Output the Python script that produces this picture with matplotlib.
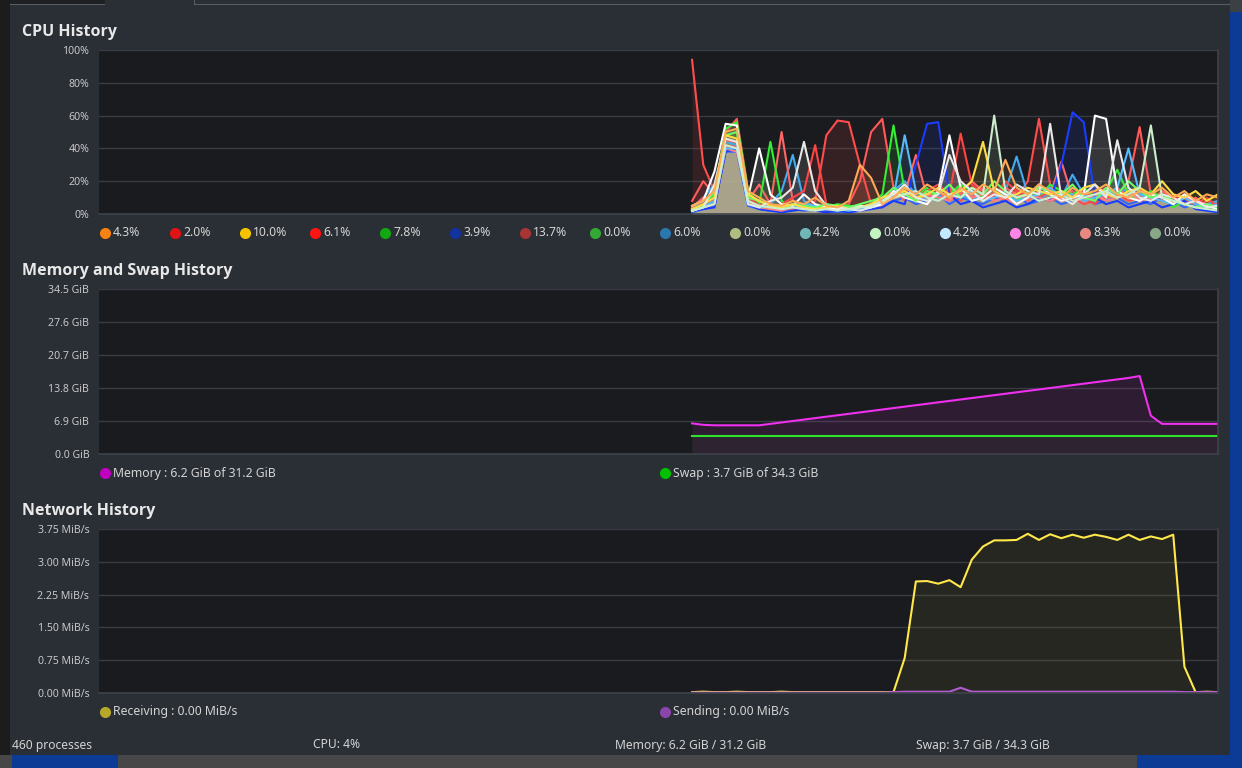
import numpy as np
import matplotlib
matplotlib.use("Agg")
import matplotlib.pyplot as plt
from matplotlib.patches import Rectangle
from matplotlib.lines import Line2D

plt.rcParams['font.family'] = ['Noto Sans', 'DejaVu Sans']

W, H = 1242, 768

# ---- data -------------------------------------------------------------
# history window is 100 samples, only the last 48 are filled
samples = np.arange(53, 101)

cpu_r1 = [94, 30, 14, 40, 42, 10, 6, 4, 5, 4, 3, 8, 48, 57, 56, 30, 6, 5, 12, 10, 8, 14, 10, 12,
          8, 14, 10, 8, 12, 10, 20, 58, 18, 8, 10, 6, 8, 10, 12, 8, 10, 8, 12, 10, 6, 4, 8, 6]
cpu_r2 = [8, 20, 12, 50, 58, 15, 4, 6, 4, 3, 4, 5, 3, 4, 6, 20, 50, 58, 16, 8, 12, 10, 14, 8,
          12, 10, 16, 12, 8, 14, 10, 12, 8, 10, 14, 8, 12, 16, 10, 20, 53, 12, 10, 8, 12, 6, 4, 8]
cpu_r3 = [4, 10, 8, 45, 44, 8, 18, 6, 50, 8, 5, 4, 3, 2, 3, 4, 3, 10, 14, 12, 36, 10, 8, 16,
          12, 20, 14, 10, 16, 12, 8, 14, 12, 32, 10, 14, 8, 12, 16, 10, 12, 8, 14, 10, 6, 10, 4, 6]
cpu_r4 = [3, 6, 10, 42, 40, 12, 5, 4, 6, 10, 14, 42, 6, 3, 2, 3, 4, 6, 12, 16, 10, 14, 18, 12,
          49, 18, 12, 10, 20, 14, 12, 10, 14, 8, 12, 10, 6, 14, 10, 12, 16, 10, 8, 12, 8, 6, 10, 4]
cpu_s1 = [2, 4, 6, 40, 38, 8, 4, 3, 2, 4, 3, 4, 5, 4, 3, 4, 6, 8, 10, 14, 8, 12, 10, 8,
          16, 10, 12, 8, 10, 6, 12, 10, 8, 12, 10, 8, 12, 8, 10, 14, 8, 10, 12, 6, 10, 8, 6, 4]
cpu_w1 = [5, 8, 26, 55, 54, 10, 40, 12, 6, 5, 12, 6, 4, 3, 4, 5, 4, 6, 14, 10, 8, 6, 14, 48,
          16, 8, 10, 16, 12, 6, 10, 18, 12, 8, 10, 12, 60, 58, 14, 10, 8, 12, 10, 6, 12, 8, 5, 3]
cpu_w2 = [2, 4, 18, 46, 44, 6, 4, 8, 10, 16, 44, 14, 5, 4, 3, 2, 4, 8, 12, 18, 10, 8, 12, 36,
          20, 14, 8, 12, 10, 18, 14, 12, 55, 10, 6, 12, 18, 10, 45, 16, 10, 8, 12, 10, 6, 8, 4, 5]
cpu_g1 = [3, 6, 12, 52, 56, 14, 6, 44, 8, 4, 3, 5, 4, 6, 5, 4, 6, 12, 54, 14, 10, 16, 8, 12,
          18, 14, 10, 16, 12, 8, 14, 10, 18, 14, 12, 16, 10, 14, 27, 12, 8, 14, 10, 4, 8, 6, 3, 2]
cpu_g2 = [2, 5, 14, 48, 50, 10, 8, 5, 4, 6, 5, 4, 6, 5, 4, 6, 8, 10, 16, 12, 8, 14, 12, 18,
          10, 16, 12, 20, 14, 10, 12, 16, 14, 12, 18, 10, 8, 16, 12, 20, 14, 10, 12, 8, 6, 4, 6, 4]
cpu_lb1 = [3, 10, 18, 44, 42, 12, 8, 6, 14, 36, 8, 4, 3, 4, 2, 3, 5, 8, 14, 20, 12, 8, 10, 14,
           12, 8, 12, 10, 14, 35, 12, 8, 14, 10, 24, 12, 10, 14, 12, 16, 10, 8, 12, 6, 8, 4, 6, 8]
cpu_lb2 = [2, 4, 8, 40, 40, 6, 4, 5, 3, 4, 6, 5, 4, 3, 2, 3, 4, 6, 10, 48, 14, 10, 8, 12,
           10, 14, 8, 10, 12, 8, 10, 12, 16, 10, 12, 8, 10, 12, 16, 40, 12, 10, 8, 6, 10, 6, 4, 6]
cpu_b1 = [2, 3, 4, 38, 40, 6, 3, 2, 1, 2, 3, 2, 1, 2, 1, 2, 3, 4, 8, 6, 30, 55, 56, 12,
          6, 8, 4, 6, 8, 4, 6, 10, 8, 30, 62, 56, 10, 6, 8, 4, 6, 8, 4, 6, 8, 3, 2, 1]
cpu_o1 = [5, 8, 14, 50, 52, 14, 10, 6, 5, 8, 6, 10, 5, 4, 8, 30, 22, 6, 10, 16, 12, 18, 14, 10,
          16, 12, 18, 14, 33, 16, 12, 18, 14, 10, 16, 12, 14, 18, 12, 10, 14, 12, 16, 10, 14, 8, 12, 10]
cpu_y1 = [3, 6, 10, 48, 46, 12, 8, 5, 4, 6, 4, 3, 4, 5, 3, 4, 6, 10, 12, 14, 10, 12, 16, 12,
          14, 20, 44, 14, 10, 12, 16, 14, 12, 14, 10, 16, 18, 12, 10, 14, 16, 12, 20, 12, 10, 14, 8, 12]
cpu_pg1 = [2, 4, 6, 42, 40, 8, 5, 4, 3, 4, 3, 2, 3, 2, 3, 4, 5, 8, 10, 12, 14, 10, 8, 12,
           10, 16, 12, 60, 14, 10, 12, 8, 10, 12, 8, 10, 12, 14, 10, 12, 16, 54, 10, 8, 6, 4, 3, 2]
cpu_b2 = [1, 3, 5, 38, 38, 5, 3, 2, 2, 3, 2, 3, 2, 1, 2, 3, 4, 6, 8, 10, 6, 8, 12, 6,
          10, 8, 6, 10, 8, 12, 6, 8, 10, 6, 8, 12, 6, 8, 10, 6, 8, 6, 10, 8, 4, 6, 3, 2]

# drawing order, chosen so the stacked fills end up a warm grey
cpu_series = [cpu_r1, cpu_b2, cpu_r2, cpu_lb1, cpu_r3, cpu_g1, cpu_r4, cpu_b1,
              cpu_s1, cpu_lb2, cpu_w1, cpu_g2, cpu_y1, cpu_w2, cpu_pg1, cpu_o1]
cpu_line_colors = ['#ff4d4d', '#3366ff', '#ff5a5a', '#44aaee', '#ff6666', '#33ee33', '#ff4444', '#1a3cff',
                   '#ff8080', '#55bbff', '#ffffff', '#66ff66', '#ffdd44', '#e8e8e8', '#cceecc', '#ffaa55']

cpu_legend_values = ['4.3%', '2.0%', '10.0%', '6.1%', '7.8%', '3.9%', '13.7%', '0.0%',
                     '6.0%', '0.0%', '4.2%', '0.0%', '4.2%', '0.0%', '8.3%', '0.0%']
cpu_legend_colors = ['#f58212', '#e01414', '#f4c400', '#ff1414', '#12a812', '#1232a0', '#a83434', '#34a834',
                     '#2a78ae', '#b0bc80', '#70b8b8', '#c4f4c0', '#c4e8ff', '#ff84e4', '#e88880', '#88a888']
cpu_ticks = [0, 20, 40, 60, 80, 100]
cpu_tick_labels = ['0%', '20%', '40%', '60%', '80%', '100%']

memory = [6.4, 6.1, 6.0, 6.0, 6.0, 6.0, 6.0, 6.3, 6.6, 6.9, 7.2, 7.5, 7.8, 8.1, 8.4, 8.7,
          9.0, 9.3, 9.6, 9.9, 10.2, 10.5, 10.8, 11.1, 11.4, 11.7, 12.0, 12.3, 12.6, 12.9, 13.2, 13.5,
          13.8, 14.1, 14.4, 14.7, 15.0, 15.3, 15.6, 15.9, 16.3, 8.0, 6.3, 6.3, 6.3, 6.3, 6.3, 6.3]
swap = [3.7] * 48
mem_ticks = [0, 6.9, 13.8, 20.7, 27.6, 34.5]
mem_tick_labels = ['0.0 GiB', '6.9 GiB', '13.8 GiB', '20.7 GiB', '27.6 GiB', '34.5 GiB']

receiving = [0.02, 0.03, 0.02, 0.02, 0.03, 0.02, 0.02, 0.02, 0.03, 0.02, 0.02, 0.02, 0.02, 0.02, 0.02, 0.02,
             0.02, 0.02, 0.02, 0.8, 2.55, 2.56, 2.5, 2.58, 2.42, 3.05, 3.35, 3.49, 3.49, 3.5, 3.64, 3.5,
             3.63, 3.54, 3.62, 3.55, 3.62, 3.57, 3.5, 3.62, 3.5, 3.58, 3.52, 3.62, 0.6, 0.02, 0.03, 0.02]
sending = [0.01, 0.01, 0.01, 0.01, 0.01, 0.01, 0.01, 0.01, 0.01, 0.01, 0.01, 0.01, 0.01, 0.01, 0.01, 0.01,
           0.01, 0.01, 0.02, 0.03, 0.03, 0.03, 0.03, 0.03, 0.12, 0.03, 0.03, 0.03, 0.03, 0.03, 0.03, 0.03,
           0.03, 0.03, 0.03, 0.03, 0.03, 0.03, 0.03, 0.03, 0.03, 0.03, 0.03, 0.03, 0.02, 0.02, 0.02, 0.02]
net_ticks = [0, 0.75, 1.5, 2.25, 3.0, 3.75]
net_tick_labels = ['0.00 MiB/s', '0.75 MiB/s', '1.50 MiB/s', '2.25 MiB/s', '3.00 MiB/s', '3.75 MiB/s']

# ---- colours ----------------------------------------------------------
PANEL = '#2a2e35'
PLOT_BG = '#1a1b1e'
GRID = '#383b42'
TEXT = '#d4d4d4'
TITLE = '#e8e8e8'


def fx(px):
    return px / W


def fy(py):
    return 1 - py / H


def rect(fig, x0, y0, x1, y1, color):
    fig.add_artist(Rectangle((fx(x0), fy(y1)), fx(x1) - fx(x0), fy(y0) - fy(y1),
                             transform=fig.transFigure, facecolor=color, edgecolor='none', zorder=-10))


def make_axes(fig, top, bottom, ylim, ticks, labels):
    ax = fig.add_axes([fx(99), fy(bottom), fx(1218) - fx(99), fy(top) - fy(bottom)])
    ax.set_facecolor(PLOT_BG)
    ax.set_xlim(0, 100)
    ax.set_ylim(*ylim)
    ax.set_xticks([])
    ax.set_yticks(ticks)
    ax.set_yticklabels(labels, fontsize=7.6, color='#c8c8c8')
    ax.tick_params(axis='y', length=0, pad=7)
    ax.grid(axis='y', color=GRID, lw=1)
    ax.set_axisbelow(True)
    for s in ['left', 'top']:
        ax.spines[s].set_visible(False)
    for s in ['right', 'bottom']:
        ax.spines[s].set_color('#3e424a')
        ax.spines[s].set_linewidth(1.2)
    return ax


def dot(fig, px, py, color):
    fig.add_artist(Line2D([fx(px)], [fy(py)], transform=fig.transFigure, marker='o',
                          ms=7, color=color, mec=color))


def title(fig, py, s):
    fig.text(fx(22), fy(py), s, fontsize=11.5, fontweight='bold', color=TITLE, va='center',
             family=['Open Sans', 'DejaVu Sans'])


fig = plt.figure(figsize=(W / 100, H / 100), dpi=100)
fig.patch.set_facecolor('#1c1c1c')

# window background pieces
rect(fig, 0, 755, W, H, '#474747')
rect(fig, 12, 755, 118, H, '#0c3b96')
rect(fig, 1137, 755, 1230, H, '#0c3b96')
rect(fig, 1230, 0, W, H, '#0c3b96')
rect(fig, 1230, 0, W, 12, '#3c3f44')
rect(fig, 10, 0, 1230, 755, PANEL)
# tabs
rect(fig, 10, 0, 105, 4, '#1e2024')
rect(fig, 10, 4, 105, 5, '#5a5e64')
rect(fig, 194, 0, 195, 5, '#5a5e64')
rect(fig, 194, 4, 1230, 5, '#5a5e64')

# ---- CPU --------------------------------------------------------------
title(fig, 32, 'CPU History')
ax1 = make_axes(fig, 50, 214, (0, 100), cpu_ticks, cpu_tick_labels)
for vals, c in zip(cpu_series, cpu_line_colors):
    ax1.fill_between(samples, 0, vals, color=c, alpha=0.12, lw=0)
for vals, c in zip(cpu_series, cpu_line_colors):
    ax1.plot(samples, vals, color=c, lw=1.5, solid_joinstyle='round')
for k, (lab, c) in enumerate(zip(cpu_legend_values, cpu_legend_colors)):
    x = 105 + 70 * k
    dot(fig, x, 233, c)
    fig.text(fx(x + 8), fy(233), lab, fontsize=8.8, color=TEXT, va='center')

# ---- Memory -----------------------------------------------------------
title(fig, 271, 'Memory and Swap History')
ax2 = make_axes(fig, 289, 454, (0, 34.5), mem_ticks, mem_tick_labels)
ax2.fill_between(samples, 0, memory, color='#ff30ff', alpha=0.09, lw=0)
ax2.fill_between(samples, 0, swap, color='#30ff30', alpha=0.04, lw=0)
ax2.plot(samples, memory, color='#f030f0', lw=1.5)
ax2.plot(samples, swap, color='#2ee02e', lw=1.5)
dot(fig, 105, 473, '#c000c0')
fig.text(fx(113), fy(473), 'Memory : 6.2 GiB of 31.2 GiB', fontsize=8.8, color=TEXT, va='center')
dot(fig, 665, 473, '#00c000')
fig.text(fx(673), fy(473), 'Swap : 3.7 GiB of 34.3 GiB', fontsize=8.8, color=TEXT, va='center')

# ---- Network ----------------------------------------------------------
title(fig, 511, 'Network History')
ax3 = make_axes(fig, 529, 693, (0, 3.75), net_ticks, net_tick_labels)
ax3.fill_between(samples, 0, receiving, color='#ffee55', alpha=0.06, lw=0)
ax3.fill_between(samples, 0, sending, color='#b060d0', alpha=0.06, lw=0)
ax3.plot(samples, receiving, color='#ffe84a', lw=1.5)
ax3.plot(samples, sending, color='#b05cd0', lw=1.5)
dot(fig, 105, 712, '#b8a82a')
fig.text(fx(113), fy(712), 'Receiving : 0.00 MiB/s', fontsize=8.8, color=TEXT, va='center')
dot(fig, 665, 712, '#8a45a8')
fig.text(fx(673), fy(712), 'Sending : 0.00 MiB/s', fontsize=8.8, color=TEXT, va='center')

# ---- status bar -------------------------------------------------------
status = [(12, '460 processes'), (313, 'CPU: 4%'), (615, 'Memory: 6.2 GiB / 31.2 GiB'),
          (916, 'Swap: 3.7 GiB / 34.3 GiB')]
for x, s in status:
    fig.text(fx(x), fy(745), s, fontsize=8.7, color=TEXT, va='center')

fig.savefig('out.png', dpi=100, facecolor=fig.get_facecolor())
